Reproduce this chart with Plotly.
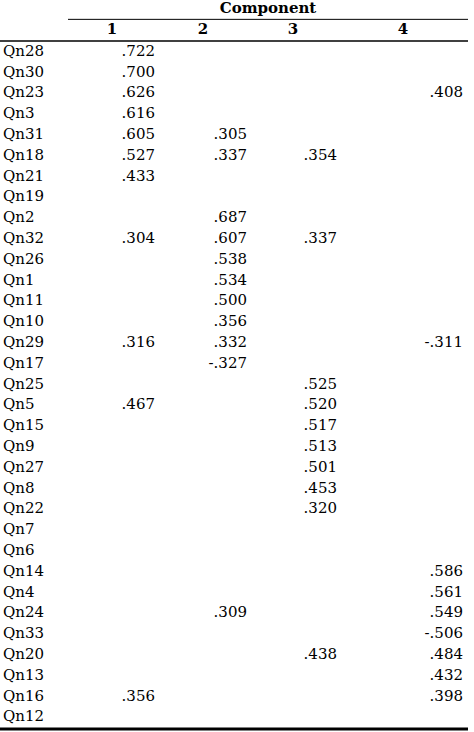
import plotly.graph_objects as go

rows = ["Qn28","Qn30","Qn23","Qn3","Qn31","Qn18","Qn21","Qn19","Qn2","Qn32","Qn26","Qn1","Qn11","Qn10","Qn29","Qn17","Qn25","Qn5","Qn15","Qn9","Qn27","Qn8","Qn22","Qn7","Qn6","Qn14","Qn4","Qn24","Qn33","Qn20","Qn13","Qn16","Qn12"]
c1 = [".722",".700",".626",".616",".605",".527",".433","","",".304","","","","",".316","","",".467","","","","","","","","","","","","","",".356",""]
c2 = ["","","","",".305",".337","","",".687",".607",".538",".534",".500",".356",".332","-.327","","","","","","","","","","","",".309","","","","",""]
c3 = ["","","","","",".354","","","",".337","","","","","","",".525",".520",".517",".513",".501",".453",".320","","","","","","",".438","","",""]
c4 = ["","",".408","","","","","","","","","","","","-.311","","","","","","","","","","",".586",".561",".549","-.506",".484",".432",".398",""]
headers = ["1","2","3","4"]

font = dict(family="DejaVu Serif", size=15, color="black")
fig = go.Figure()
idx = list(range(len(rows)))
fig.add_trace(go.Scatter(x=[3]*len(rows), y=idx, text=rows, mode="text", textposition="middle right", textfont=font, cliponaxis=False))
for xr, col in zip([155, 247, 337, 463], [c1, c2, c3, c4]):
    fig.add_trace(go.Scatter(x=[xr]*len(rows), y=idx, text=col, mode="text", textposition="middle left", textfont=font, cliponaxis=False))
bold = dict(family="DejaVu Serif", size=15, color="black", weight="bold")
fig.add_trace(go.Scatter(x=[112, 203, 293, 403], y=[-1.06]*4, text=headers, mode="text", textposition="middle center", textfont=bold, cliponaxis=False))
fig.add_trace(go.Scatter(x=[268], y=[-2.07], text=["Component"], mode="text", textposition="middle center", textfont=bold, cliponaxis=False))

fig.add_shape(type="line", x0=68, x1=468, y0=-1.57, y1=-1.57, line=dict(color="black", width=1))
fig.add_shape(type="line", x0=0, x1=468, y0=-0.53, y1=-0.53, line=dict(color="black", width=1.5))
fig.add_shape(type="line", x0=0, x1=468, y0=32.55, y1=32.55, line=dict(color="black", width=3))

fig.update_layout(width=474, height=732, margin=dict(l=0, r=0, t=0, b=0), showlegend=False,
                  plot_bgcolor="white", paper_bgcolor="white",
                  xaxis=dict(range=[0, 474], visible=False, fixedrange=True),
                  yaxis=dict(range=[32.69, -2.5], visible=False, fixedrange=True))
fig.write_html("out.html", config={"displayModeBar": False},
               post_script="document.body.style.margin='0';document.body.style.overflow='hidden';")
